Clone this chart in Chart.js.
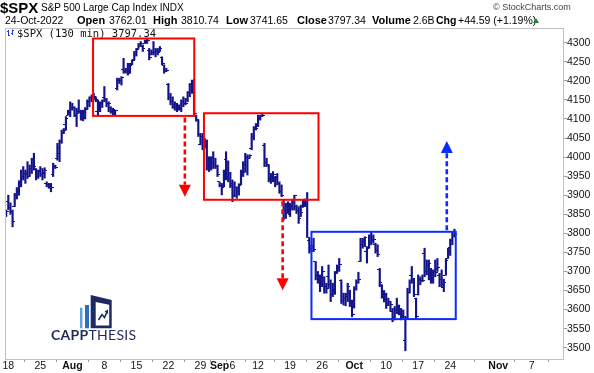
<!DOCTYPE html>
<html><head><meta charset="utf-8">
<script src="https://cdn.jsdelivr.net/npm/chart.js@4.4.1/dist/chart.umd.min.js"></script>
<style>
html,body{margin:0;padding:0;background:#fff;}
#wrap{position:relative;width:594px;height:373px;overflow:hidden;font-family:"Liberation Sans",Arial,sans-serif;color:#000;}
#c{position:absolute;left:0;top:0;}
.t{position:absolute;white-space:nowrap;line-height:1;}
.b{font-weight:bold;font-size:11px;top:14.9px;}
.v{font-size:10.5px;top:15.3px;}
</style></head><body>
<div id="wrap">
<canvas id="c" width="594" height="373"></canvas>
<div class="t" style="left:0;top:-0.3px;font-size:15px;font-weight:bold">$SPX</div>
<div class="t" style="left:41px;top:2.7px;font-size:10px">S&amp;P 500 Large Cap Index&nbsp;INDX</div>
<div class="t" style="left:493px;top:2.5px;font-size:9px;color:#444">© StockCharts.com</div>
<div class="t v" style="left:5px">24-Oct-2022</div>
<div class="t b" style="left:77px">Open</div><div class="t v" style="left:109px">3762.01</div>
<div class="t b" style="left:153px">High</div><div class="t v" style="left:181px">3810.74</div>
<div class="t b" style="left:226px">Low</div><div class="t v" style="left:250px">3741.65</div>
<div class="t b" style="left:297px">Close</div><div class="t v" style="left:328px">3797.34</div>
<div class="t b" style="left:372px">Volume</div><div class="t v" style="left:413px">2.6B</div>
<div class="t b" style="left:436px;font-size:10.5px;top:15.2px">Chg</div><div class="t v" style="left:458px">+44.59 (+1.19%)</div>
<div style="position:absolute;left:533px;top:18px;width:0;height:0;border-left:3px solid transparent;border-right:3px solid transparent;border-bottom:5px solid #2e7d32"></div>
<div class="t" style="left:17px;top:27.5px;font-size:10.5px;font-family:'DejaVu Sans Mono',monospace;color:#111">$SPX (130 min) 3797.34</div>
<svg style="position:absolute;left:0;top:0" width="594" height="373">
  <g stroke="#2b3ad0" stroke-width="1" fill="none">
    <line x1="8.5" y1="30" x2="8.5" y2="36"/><line x1="7" y1="31.5" x2="8.5" y2="31.5"/><line x1="8.5" y1="35.5" x2="10" y2="35.5"/>
    <line x1="12.5" y1="29.5" x2="12.5" y2="35"/><line x1="11" y1="33.5" x2="12.5" y2="33.5"/><line x1="12.5" y1="30.5" x2="14" y2="30.5"/>
  </g>
  <rect x="80" y="307.7" width="2.4" height="20.6" fill="#5aa2e4"/>
  <rect x="85" y="305" width="4" height="23.3" fill="#2f6dbf"/>
  <path d="M90.7 295 L111.7 300 L111.7 328.3 L90.7 328.3 Z" fill="#1f2a63"/>
  <path d="M95.7 302 L109.2 304.8 L109.2 325.6 L95.7 325.6 Z" fill="#fff"/>
  <polyline points="98.5,320 102,314.5 104.5,317.5 107,311.8" fill="none" stroke="#1f2a63" stroke-width="1.6"/>
  <path d="M108 309.5 L108.2 314 L104.6 311.6 Z" fill="#1f2a63"/>
</svg>
<div class="t" style="left:51px;top:328px;font-size:14px;font-family:Lato,'Liberation Sans',sans-serif;color:#1f2a5c;letter-spacing:0.3px"><span style="font-weight:bold">CAPP</span>THESIS</div>
</div>
<script>
// ---- data: 130-minute bars, Jul 15 (last bar) .. Oct 24 2022, three bars per session ----
const firstBar = -1;
const opens = [
3850,
3883,3868,3856, 3870,3898,3912, 3935,3950,3958, 3955,3950,3970, 3995,3968,3950,
3965,3955,3958, 3930,3928,3925, 3955,3975,3995, 4010,4040,4062, 4085,4110,4118,
4125,4130,4110, 4115,4120,4105, 4105,4125,4145, 4155,4155,4155, 4120,4130,4140,
4155,4150,4140, 4130,4120,4120, 4180,4200,4202, 4230,4225,4228, 4225,4242,4255,
4270,4285,4295, 4290,4298,4302, 4280,4270,4275, 4275,4280,4278, 4260,4240,4225,
4190,4155,4145, 4133,4140,4125, 4125,4145,4140, 4150,4170,4190, 4198,4108,4097,
4034,4055,4040, 4041,3985,3990, 4000,3980,3975, 3935,3925,3925, 3994,3950,3945,
3930,3900,3920, 3910,3927,3960, 3960,4000,3997, 4022,4055,4072,
4085,4100,4108, 4030,3985,3980, 3945,3950,3945, 3950,3930,3910, 3880,3860,3870,
3850,3870,3880, 3870,3860,3845, 3871,3880,3875, 3782,3760,3765, 3726,3690,3680,
3682,3685,3660, 3687,3665,3640, 3651,3695,3710, 3676,3625,3630, 3633,3645,3620,
3609,3655,3670, 3726,3770,3778, 3753,3762,3790, 3780,3770,3755, 3706,3665,3645,
3640,3615,3620, 3595,3580,3600, 3590,3600,3585, 3520,3575,3645, 3690,3680,3630,
3640,3680,3675, 3746,3700,3715, 3703,3680,3700, 3707,3690,3680, 3657,3690,3735,
3762,3780,3795
];
const highs = [
3861,
3900,3880,3861, 3905,3920,3938, 3966,3975,3966, 3988,3979,3997, 4010,3970,3966,
3975,3970,3972, 3935,3931,3931, 3984,3979,4036, 4045,4071,4075, 4106,4123,4145,
4141,4132,4128, 4150,4123,4123, 4130,4150,4158, 4163,4167,4158, 4150,4145,4150,
4185,4154,4145, 4132,4128,4123, 4207,4207,4211, 4259,4233,4246, 4246,4255,4277,
4285,4298,4303, 4294,4307,4312, 4285,4281,4303, 4285,4285,4290, 4263,4242,4233,
4193,4167,4158, 4145,4141,4137, 4150,4158,4154, 4172,4193,4202, 4203,4110,4097,
4062,4062,4049, 4045,4001,4001, 4014,3997,3979, 3935,3931,3966, 4014,3990,3960,
3940,3935,3922, 3930,3966,3988, 4010,4006,4006, 4062,4080,4088,
4110,4110,4115, 4036,3997,3980, 3957,3962,3949, 3957,3935,3927, 3887,3879,3883,
3879,3887,3900, 3874,3870,3874, 3887,3890,3907, 3787,3770,3787, 3726,3700,3691,
3713,3686,3669, 3717,3678,3669, 3700,3717,3734, 3678,3643,3643, 3669,3651,3625,
3660,3678,3698, 3787,3787,3791, 3765,3796,3804, 3796,3774,3770, 3708,3665,3650,
3643,3630,3621, 3603,3608,3630, 3612,3603,3599, 3580,3656,3678, 3713,3682,3630,
3691,3686,3691, 3761,3730,3730, 3708,3704,3730, 3734,3695,3704, 3680,3734,3761,
3785,3804,3811
];
const lows = [
3844,
3862,3850,3817, 3870,3890,3900, 3922,3940,3931, 3944,3949,3957, 3966,3940,3944,
3949,3940,3945, 3922,3918,3909, 3949,3970,3992, 3988,4036,4062, 4071,4110,4106,
4123,4106,4080, 4115,4097,4095, 4100,4125,4132, 4145,4150,4145, 4110,4119,4130,
4145,4132,4119, 4115,4110,4110, 4176,4193,4189, 4220,4220,4215, 4220,4242,4255,
4265,4285,4290, 4277,4298,4298, 4255,4268,4268, 4263,4268,4277, 4242,4220,4224,
4150,4137,4128, 4123,4119,4123, 4119,4132,4137, 4145,4158,4167, 4110,4094,4054,
4032,4019,4023, 3966,3962,3966, 3970,3970,3949, 3922,3901,3922, 3940,3935,3920,
3883,3896,3892, 3900,3927,3949, 3960,3953,3997, 4019,4045,4071,
4080,4097,4106, 3975,3975,3935, 3931,3935,3922, 3927,3905,3896, 3835,3839,3852,
3844,3861,3861, 3852,3826,3844, 3868,3870,3789, 3748,3752,3752, 3678,3669,3647,
3660,3643,3643, 3656,3621,3634, 3640,3695,3700, 3616,3612,3610, 3621,3608,3581,
3604,3651,3669, 3726,3761,3765, 3722,3761,3770, 3774,3748,3739, 3660,3630,3620,
3603,3612,3595, 3568,3573,3590, 3586,3573,3581, 3492,3575,3643, 3669,3634,3577,
3638,3665,3673, 3686,3691,3678, 3669,3669,3686, 3700,3660,3660, 3647,3690,3734,
3742,3770,3790
];
const closes = [
3858,
3868,3856,3831, 3898,3912,3936, 3950,3958,3960, 3950,3970,3995, 3975,3950,3962,
3955,3960,3966, 3928,3925,3921, 3975,3972,4024, 4040,4062,4070, 4100,4118,4130,
4130,4110,4119, 4120,4105,4100, 4125,4145,4155, 4150,4160,4152, 4130,4140,4145,
4150,4140,4140, 4120,4125,4122, 4200,4202,4210, 4225,4228,4220, 4240,4252,4276,
4282,4295,4297, 4285,4302,4305, 4260,4275,4274, 4280,4275,4284, 4245,4225,4228,
4155,4145,4137, 4140,4125,4128, 4145,4140,4140, 4170,4190,4199, 4115,4098,4058,
4055,4040,4030, 3985,3990,3986, 3980,3975,3955, 3925,3920,3965, 3950,3945,3925,
3900,3920,3909, 3925,3960,3980, 4000,3995,4005, 4055,4072,4075,
4100,4108,4110, 3985,3980,3940, 3950,3955,3946, 3930,3910,3900, 3860,3870,3873,
3870,3880,3899, 3860,3840,3855, 3880,3875,3790, 3760,3765,3757, 3690,3680,3690,
3700,3660,3655, 3665,3640,3647, 3695,3710,3719, 3625,3630,3640, 3660,3620,3586,
3655,3670,3678, 3770,3778,3790, 3760,3790,3783, 3785,3755,3744, 3670,3645,3640,
3610,3620,3612, 3580,3600,3592, 3600,3580,3583, 3575,3645,3670, 3680,3640,3583,
3680,3675,3677, 3700,3715,3720, 3680,3700,3696, 3710,3680,3666, 3670,3730,3752,
3780,3795,3797
];
// date axis: bar slot of each labelled session (Jul 18 = 0), and labels
const tickBars   = [0, 15, 30, 45, 60, 75, 90, 99, 105, 117, 132, 147, 162, 177, 192, 207, 229.5, 245.1];
const tickLabels = ['18','25','Aug','8','15','22','29','Sep','6','12','19','26','Oct','10','17','24','Nov','7'];
const monthLabels = ['Aug','Sep','Oct','Nov'];
const priceTicks = [3500,3550,3600,3650,3700,3750,3800,3850,3900,3950,4000,4050,4100,4150,4200,4250,4300];
// annotation zones (bar slot / price)
const boxBarFrom = [39.7, 91.65, 142.0];
const boxBarTo   = [87.1, 145.3, 209.6];
const boxLow     = [4108, 3888, 3575];
const boxHigh    = [4311, 4115, 3804];
const arrowBar   = [82.7, 128.5, 205.4];
const arrowFrom  = [4108, 3888, 3804];
const arrowTo    = [3896, 3651, 4042];

// ---- styling ----
const BAR = '#13138a';
const annColors = ['#ff0000', '#ff0000', '#0a2cff'];
function tickCanvas(left) {
  const c = document.createElement('canvas');
  c.width = 5; c.height = 1;
  const g = c.getContext('2d');
  g.fillStyle = BAR;
  g.fillRect(left ? 0 : 3, 0, 2, 1);
  return c;
}
const xs = opens.map((_, k) => k + firstBar);

const overlay = {
  id: 'overlay',
  afterDatasetsDraw(chart) {
    const { ctx, chartArea: a, scales: { x, y } } = chart;
    ctx.save();
    ctx.strokeStyle = '#c2c2c2'; ctx.lineWidth = 1;
    ctx.strokeRect(a.left + 0.5, a.top - 0.5, a.right - a.left - 1, a.bottom - a.top + 1);
    ctx.lineWidth = 2;
    for (let k = 0; k < boxBarFrom.length; k++) {
      const x0 = x.getPixelForValue(boxBarFrom[k]), x1 = x.getPixelForValue(boxBarTo[k]);
      const y0 = y.getPixelForValue(boxHigh[k]), y1 = y.getPixelForValue(boxLow[k]);
      ctx.strokeStyle = annColors[k];
      ctx.strokeRect(x0, y0, x1 - x0, y1 - y0);
    }
    for (let k = 0; k < arrowBar.length; k++) {
      const px = x.getPixelForValue(arrowBar[k]);
      const ys = y.getPixelForValue(arrowFrom[k]), yt = y.getPixelForValue(arrowTo[k]);
      const dir = yt > ys ? 1 : -1;
      const head = 12;
      ctx.strokeStyle = annColors[k]; ctx.fillStyle = annColors[k];
      ctx.lineWidth = 2.6; ctx.setLineDash([5, 3]);
      ctx.beginPath(); ctx.moveTo(px, ys + dir * 1.5); ctx.lineTo(px, yt - dir * head); ctx.stroke();
      ctx.setLineDash([]);
      ctx.beginPath();
      ctx.moveTo(px - 6, yt - dir * head); ctx.lineTo(px + 6, yt - dir * head); ctx.lineTo(px, yt);
      ctx.closePath(); ctx.fill();
    }
    ctx.restore();
  }
};

new Chart(document.getElementById('c'), {
  type: 'bar',
  data: {
    datasets: [
      { type: 'bar', data: xs.map((v, k) => ({ x: v, y: [lows[k], highs[k]] })),
        backgroundColor: BAR, borderWidth: 0, barThickness: 1.5, grouped: false, order: 2 },
      { type: 'scatter', data: xs.map((v, k) => ({ x: v, y: opens[k] })),
        pointStyle: tickCanvas(true), pointRadius: 1, order: 1 },
      { type: 'scatter', data: xs.map((v, k) => ({ x: v, y: closes[k] })),
        pointStyle: tickCanvas(false), pointRadius: 1, order: 1 }
    ]
  },
  options: {
    responsive: false, animation: false, devicePixelRatio: 1,
    layout: { padding: { left: 5, top: 29, right: 0, bottom: 0 } },
    plugins: { legend: { display: false }, tooltip: { enabled: false } },
    scales: {
      x: {
        type: 'linear', min: -1.55, max: 260.3, offset: false,
        afterBuildTicks(s) { s.ticks = tickBars.map(v => ({ value: v })); },
        afterFit(s) { s.height = 14; },
        border: { display: false },
        grid: { drawOnChartArea: false, drawTicks: true, tickLength: 3, color: '#9a9a9a' },
        ticks: {
          autoSkip: false, maxRotation: 0, padding: -2, color: '#111',
          callback: (v, i) => tickLabels[i],
          font: (c) => ({ family: 'Liberation Sans', size: 10.5,
            weight: monthLabels.includes(tickLabels[c.index]) ? 'bold' : 'normal' })
        }
      },
      y: {
        position: 'right', min: 3470.36, max: 4335.93,
        afterBuildTicks(s) { s.ticks = priceTicks.map(v => ({ value: v })); },
        afterFit(s) { s.width = 30; },
        border: { display: false },
        grid: { drawOnChartArea: false, drawTicks: true, tickLength: 3, color: '#9a9a9a' },
        ticks: { padding: 0, color: '#111', font: { family: 'Liberation Sans', size: 10.5 },
          callback: (v) => String(v) }
      }
    }
  },
  plugins: [overlay]
});
</script>
</body></html>
